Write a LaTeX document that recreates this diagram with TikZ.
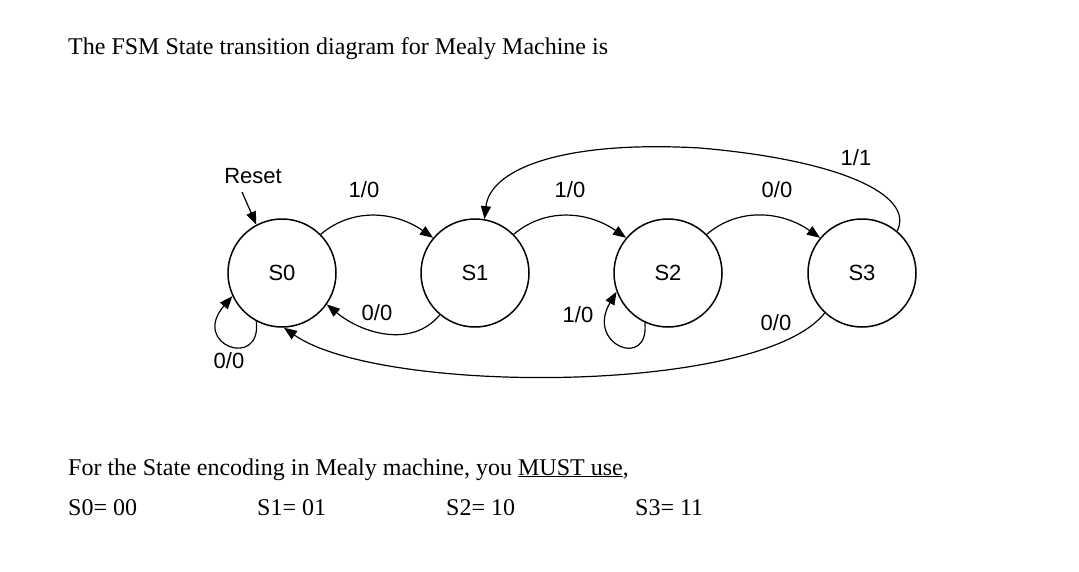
\documentclass[tikz,border=0pt]{standalone}
\usepackage{fontspec}
\setmainfont{Liberation Serif}
\newfontfamily\sansf{Liberation Sans}
\usetikzlibrary{arrows.meta}
\begin{document}
\begin{tikzpicture}[x=1pt,y=-1pt,
  st/.style={circle,draw,line width=1.5pt,minimum size=108pt,inner sep=0pt,font=\sansf\fontsize{22}{22}\selectfont},
  tr/.style={-{Triangle[length=13pt,width=10pt]},line width=1.2pt},
  lb/.style={font=\sansf\fontsize{22}{22}\selectfont,inner sep=1pt},
  tx/.style={font=\fontsize{24}{28}\selectfont,anchor=base west,inner sep=0pt}]
\useasboundingbox (0,0) rectangle (1079,571);
\node[tx] (title) at (68,54) {The FSM State transition diagram for Mealy Machine is};
\node[st] (s0) at (282,273) {S0};
\node[st] (s1) at (475,273) {S1};
\node[st] (s2) at (668,273) {S2};
\node[st] (s3) at (862,273) {S3};
\node[lb] (reset) at (253,176) {Reset};
\coordinate (r0) at (242,192);
\draw[tr] (r0) -- (s0.118);
\draw[tr] (s0.45) to[out=40,in=145] (s1.140);
\node[lb] at (364,190) {1/0};
\draw[tr] (s1.-130) to[out=-130,in=-40] (s0.-35);
\node[lb] at (377,313) {0/0};
\draw[tr] (s1.45) to[out=40,in=145] (s2.140);
\node[lb] at (570,190) {1/0};
\draw[tr] (s2.45) to[out=40,in=145] (s3.140);
\node[lb] at (777,190) {0/0};
\draw[tr] (s2.-115) .. controls (650,370) and (585,345) .. (s2.-160);
\node[lb] at (578,315) {1/0};
\draw[tr] (s0.-118) .. controls (262,370) and (190,345) .. (s0.-155);
\node[lb] at (229,361) {0/0};
\draw[tr] (s3.-133) .. controls (760,395) and (380,395) .. (s0.-88);
\node[lb] at (776,323) {0/0};
\draw[tr] (s3.50) .. controls (915,195) and (840,160) .. (700,148) .. controls (560,140) and (490,170) .. (s1.80);
\node[lb] at (856,158) {1/1};
\node[tx] (enc) at (68,475) {For the State encoding in Mealy machine, you \underline{MUST use},};
\node[tx] (e0) at (68,515) {S0= 00};
\node[tx] (e1) at (257,515) {S1= 01};
\node[tx] (e2) at (446,515) {S2= 10};
\node[tx] (e3) at (635,515) {S3= 11};
\end{tikzpicture}
\end{document}
